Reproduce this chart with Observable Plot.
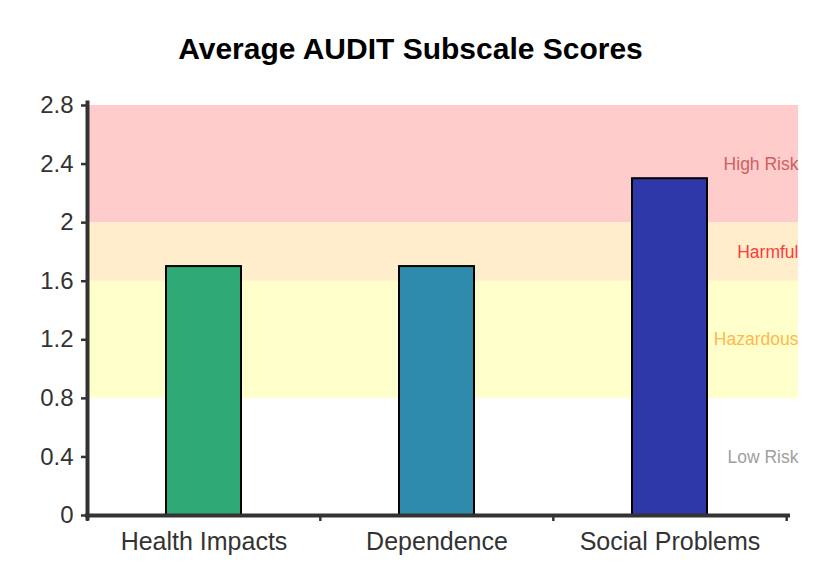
<!DOCTYPE html>
<html>
<head>
<meta charset="utf-8">
<script src="https://cdn.jsdelivr.net/npm/d3@7"></script>
<script src="https://cdn.jsdelivr.net/npm/@observablehq/plot@0.6"></script>
<style>
  body { margin: 0; background: #fff; font-family: "Liberation Sans", Arial, sans-serif; }
  #title { box-sizing: border-box; height: 84px; padding-top: 32px; width: 831px; text-align: center;
           font-weight: bold; font-size: 30px; line-height: 34px; color: #000; position: relative; left: -5px; }
  svg { display: block; }
</style>
</head>
<body>
<div id="title">Average AUDIT Subscale Scores</div>
<div id="chart"></div>
<script>
const categories = ["Health Impacts", "Dependence", "Social Problems"];
const scores = [1.7, 1.7, 2.3];
const barColors = ["#2eaa76", "#2e8aaa", "#2e38a8"];

const zoneLabels = ["Low Risk", "Hazardous", "Harmful", "High Risk"];
const zoneLow = [0, 0.8, 1.6, 2.0];
const zoneHigh = [0.8, 1.6, 2.0, 2.8];
const zoneFills = ["#ffffff", "#ffffcc", "#ffedcc", "#ffcccc"];
const zoneTextColors = ["#a0a0a0", "#ffb84d", "#ff3a3a", "#cd6060"];

const yTicks = [0, 0.4, 0.8, 1.2, 1.6, 2.0, 2.4, 2.8];

const bars = categories.map((c, i) => ({category: c, score: scores[i], color: barColors[i]}));
const zones = zoneLabels.map((l, i) => ({label: l, lo: zoneLow[i], hi: zoneHigh[i], mid: (zoneLow[i] + zoneHigh[i]) / 2, fill: zoneFills[i], text: zoneTextColors[i]}));

const xRange = [86, 786];
const step = (xRange[1] - xRange[0]) / categories.length;

const chart = Plot.plot({
  width: 831,
  height: 490,
  marginLeft: 87,
  marginRight: 41,
  marginTop: 21,
  marginBottom: 59,
  style: {fontFamily: "'Liberation Sans', Arial, sans-serif", background: "#fff"},
  x: {domain: categories, range: xRange, padding: 0},
  y: {domain: [0, 2.8]},
  marks: [
    Plot.rectY(zones, {y1: "lo", y2: "hi", fill: "fill", insetRight: -8}),
    Plot.barY(bars, {x: "category", y: "score", fill: "color", stroke: "#000", strokeWidth: 2, insetLeft: 79, insetRight: 79}),
    Plot.text(zones, {y: "mid", text: "label", fill: "text", frameAnchor: "right", textAnchor: "end", dx: 8, fontSize: 17.5}),
    Plot.axisY({ticks: yTicks, tickFormat: d => String(+d.toFixed(1)), tickSize: 6, tickPadding: 8, fontSize: 24, color: "#333", strokeWidth: 2.5, label: null}),
    Plot.axisX({tickSize: 0, tickPadding: 17, fontSize: 25, color: "#333", label: null}),
    Plot.ruleX(categories, {x: d => d, y1: 0, y2: 0, insetBottom: -6, dx: -step / 2, stroke: "#333", strokeWidth: 2.5}),
    Plot.ruleX(categories.slice(-1), {x: d => d, y1: 0, y2: 0, insetBottom: -6, dx: step / 2, stroke: "#333", strokeWidth: 2.5}),
    Plot.frame({anchor: "left", stroke: "#333", strokeWidth: 4, insetTop: -3, insetBottom: -3}),
    Plot.ruleY([0], {stroke: "#333", strokeWidth: 4, insetLeft: -2})
  ]
});
document.getElementById("chart").appendChild(chart);
</script>
</body>
</html>
